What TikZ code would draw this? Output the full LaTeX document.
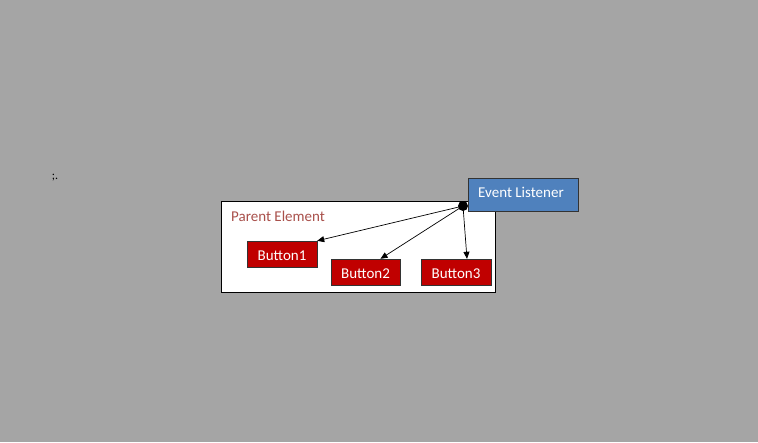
\documentclass[tikz,border=0pt]{standalone}
\usepackage{fontspec}
\setmainfont{Carlito}
\usetikzlibrary{arrows.meta}
\definecolor{bg}{HTML}{A5A5A5}
\definecolor{elblue}{HTML}{4F81BD}
\definecolor{btnred}{HTML}{C00000}
\definecolor{ptext}{HTML}{A9504B}
\begin{document}
\begin{tikzpicture}[x=1pt,y=-1pt,
  every node/.style={font=\fontsize{15}{17}\selectfont},
  btn/.style={draw=black!80, fill=btnred, text=white, minimum width=70pt, minimum height=26pt, inner sep=0pt, text depth=0pt, text height=12pt},
  conn/.style={-{Triangle[length=7pt,width=6pt]}, black, line width=0.7pt}]
\fill[bg] (0,0) rectangle (758,442);
\useasboundingbox (0,0) rectangle (758,442);
\node[font=\fontsize{12}{14}\selectfont] (semi) at (55,178) {;.};
\node[draw=black, fill=white, minimum width=274pt, minimum height=91pt, inner sep=0pt] (parent) at (358,246.5) {};
\node[text=ptext, anchor=west, inner sep=0pt] (ptitle) at (231,216) {Parent Element};
\node[draw=black!80, fill=elblue, minimum width=110pt, minimum height=33pt, inner sep=0pt] (el) at (523,194.5) {};
\node[text=white, inner sep=0pt] (eltext) at (521,192) {Event Listener};
\node[btn] (b1) at (282,254) {Button1};
\node[btn, minimum width=69pt] (b2) at (365.5,272) {Button2};
\node[btn] (b3) at (456,272) {Button3};
\fill[black] (463,206) circle (5pt);
\coordinate (dot) at (463,206);
\draw[conn] (dot) -- (b1.north east);
\draw[conn] (dot) -- ([xshift=15pt]b2.north);
\draw[conn] (dot) -- ([xshift=11pt]b3.north);
\end{tikzpicture}
\end{document}
